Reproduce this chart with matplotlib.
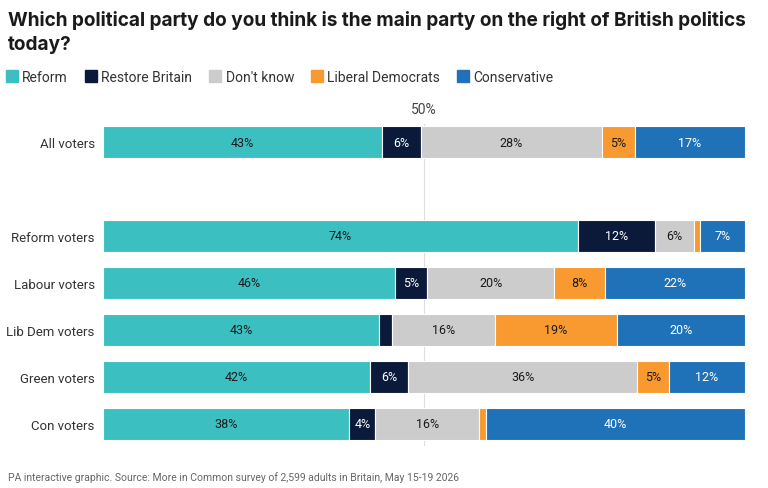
import matplotlib.pyplot as plt
import numpy as np
from matplotlib.patches import Patch

plt.rcParams['font.family'] = ['Roboto', 'DejaVu Sans']

groups = ["All voters", "Reform voters", "Labour voters", "Lib Dem voters", "Green voters", "Con voters"]
series = ["Reform", "Restore Britain", "Don't know", "Liberal Democrats", "Conservative"]
reform = [43, 74, 46, 43, 42, 38]
restore = [6, 12, 5, 2, 6, 4]
dont_know = [28, 6, 20, 16, 36, 16]
lib_dem = [5, 1, 8, 19, 5, 1]
conservative = [17, 7, 22, 20, 12, 40]
colors = ["#3bbfc1", "#0b1a3b", "#cccccc", "#f89a2f", "#1f72b8"]
text_colors = ["#1a1a1a", "white", "#1a1a1a", "#1a1a1a", "white"]
ypos = [0, 2, 3, 4, 5, 6]

data = np.array([reform, restore, dont_know, lib_dem, conservative], dtype=float)
totals = data.sum(axis=0)

fig = plt.figure(figsize=(7.68, 4.89), dpi=100)
ax = fig.add_axes([103/768, 1-460/489, 642/768, 360/489])
left = np.zeros(len(groups))
for i, s in enumerate(series):
    w = data[i] / totals * 100
    ax.barh(ypos, w, left=left, height=0.7, color=colors[i], edgecolor='white', linewidth=0.8, zorder=2)
    for j in range(len(groups)):
        if data[i, j] >= 4:
            ax.text(left[j] + w[j]/2, ypos[j], f"{int(data[i, j])}%", ha='center', va='center',
                    fontsize=9, color=text_colors[i], zorder=3)
    left += w

ax.set_xlim(0, 100)
ax.set_ylim(6.745, -0.915)
ax.axvline(50, ymin=0.04, ymax=0.93, color='#dddddd', lw=0.8, zorder=1)
ax.text(50, -0.7, "50%", ha='center', va='center', fontsize=10, color='#444444')
ax.set_yticks(ypos)
ax.set_yticklabels(groups, fontsize=9.5, color='#333333')
ax.tick_params(axis='y', length=0, pad=6)
ax.set_xticks([])
for sp in ax.spines.values():
    sp.set_visible(False)

fig.text(8/768, 1-20/489, "Which political party do you think is the main party on the right of British politics",
         fontsize=13.7, fontweight='bold', va='center', color='#1a1a1a', family=['Inter', 'DejaVu Sans'])
fig.text(8/768, 1-45/489, "today?", fontsize=13.7, fontweight='bold', va='center', color='#1a1a1a',
         family=['Inter', 'DejaVu Sans'])

handles = [Patch(color=c) for c in colors]
fig.legend(handles, series, loc='center left', bbox_to_anchor=(0.0, 1-78/489), ncol=5, frameon=False,
           handlelength=0.9, handleheight=0.9, handletextpad=0.3, columnspacing=1.2, fontsize=10,
           labelcolor='#333333', borderaxespad=0)

fig.text(8/768, 1-478/489, "PA interactive graphic. Source: More in Common survey of 2,599 adults in Britain, May 15-19 2026",
         fontsize=7.5, color='#666666', va='center')
fig.savefig("out.png", dpi=100)
